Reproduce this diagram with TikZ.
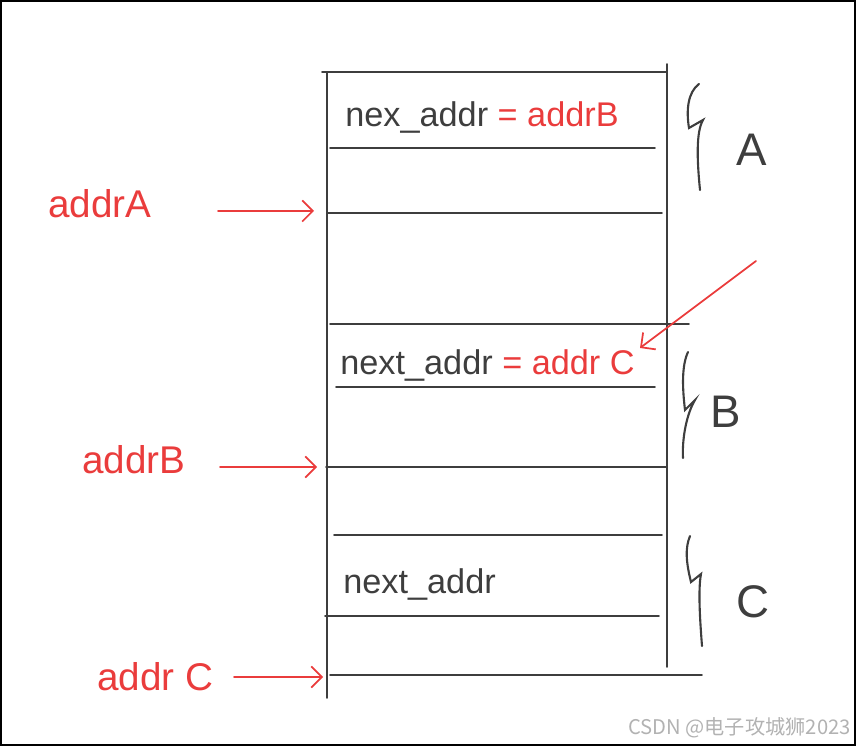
\documentclass[tikz,border=0pt]{standalone}
\usepackage{fontspec}
\setmainfont{Liberation Sans}
\newfontfamily\cjkfont{Noto Sans CJK SC}
\usetikzlibrary{arrows.meta}
\definecolor{pen}{RGB}{62,62,62}
\definecolor{redpen}{RGB}{234,60,60}
\tikzset{every path/.style={line cap=round}, mem/.style={draw=pen,line width=1.1pt}, hand/.style={draw=pen,line width=1.2pt}}
\tikzset{ptr/.style={draw=redpen,line width=1pt,-{Straight Barb[length=6pt,width=12pt]}}, field/.style={pen,font=\fontsize{19.5}{24}\selectfont,inner sep=0pt,anchor=base west}, addr/.style={redpen,font=\fontsize{22}{24}\selectfont,inner sep=0pt,anchor=base west}, part/.style={pen,font=\fontsize{26}{28}\selectfont,inner sep=0pt}}

\begin{document}
\begin{tikzpicture}[x=0.02cm,y=-0.02cm]
  \useasboundingbox (0,0) rectangle (856,746);
  \draw[black,line width=1pt] (1,1) rectangle (855,745);
  \begin{scope}
   \draw[mem] (327,72) -- (327,698);
   \draw[mem] (667,64) -- (667,667);
   \draw[mem] (322,72) -- (667,72);
   \draw[mem] (330,148) -- (655,148);
   \draw[mem] (327,213) -- (662,213);
   \draw[mem] (330,324) -- (689,324);
   \draw[mem] (336,387) -- (655,387);
   \draw[mem] (326,467) -- (667,467);
   \draw[mem] (334,535) -- (662,535);
   \draw[mem] (325,616) -- (659,616);
   \draw[mem] (330,675) -- (702,675);
  \end{scope}
  \begin{scope}
   \node[field] (fa) at (345,127) {nex\_addr \textcolor{redpen}{= addrB}};
   \node[field] (fb) at (340,375) {next\_addr \textcolor{redpen}{= addr C}};
   \node[field] (fc) at (343,594) {next\_addr};
  \end{scope}
  \begin{scope}
   \node[addr] (la) at (48,218) {addrA};
   \node[addr] (lb) at (82,474) {addrB};
   \node[addr] (lc) at (97,690) {addr C};
   \coordinate (ta) at (218,211);
   \coordinate (ha) at (314,211);
   \coordinate (tb) at (220,467);
   \coordinate (hb) at (317,467);
   \coordinate (tc) at (234,677);
   \coordinate (hc) at (323,677);
   \coordinate (tn) at (756,261);
   \coordinate (hn) at (640,348);
   \draw[ptr] (ta) -- (ha);
   \draw[ptr] (tb) -- (hb);
   \draw[ptr] (tc) -- (hc);
   \draw[ptr] (tn) -- (hn);
  \end{scope}
  \begin{scope}
   \draw[hand] (699,84) .. controls (688,92) and (686,110) .. (689,128) -- (703,120)
               .. controls (696,132) and (697,160) .. (700,190);
   \draw[hand] (688,352) .. controls (682,365) and (682,385) .. (685,410) -- (695,400)
               .. controls (686,415) and (682,440) .. (683,458);
   \draw[hand] (690,536) .. controls (685,548) and (686,562) .. (691,582) -- (701,574)
               .. controls (698,590) and (700,620) .. (702,646);
   \node[part] (pa) at (752,150) {A};
   \node[part] (pb) at (726,412) {B};
   \node[part] (pc) at (753,602) {C};
  \end{scope}
  \node[anchor=base east,inner sep=0pt,black!30,font=\cjkfont\fontsize{11.5}{13}\selectfont] (wm) at (851,734) {CSDN @电子攻城狮2023};
 \end{tikzpicture}
\end{document}
